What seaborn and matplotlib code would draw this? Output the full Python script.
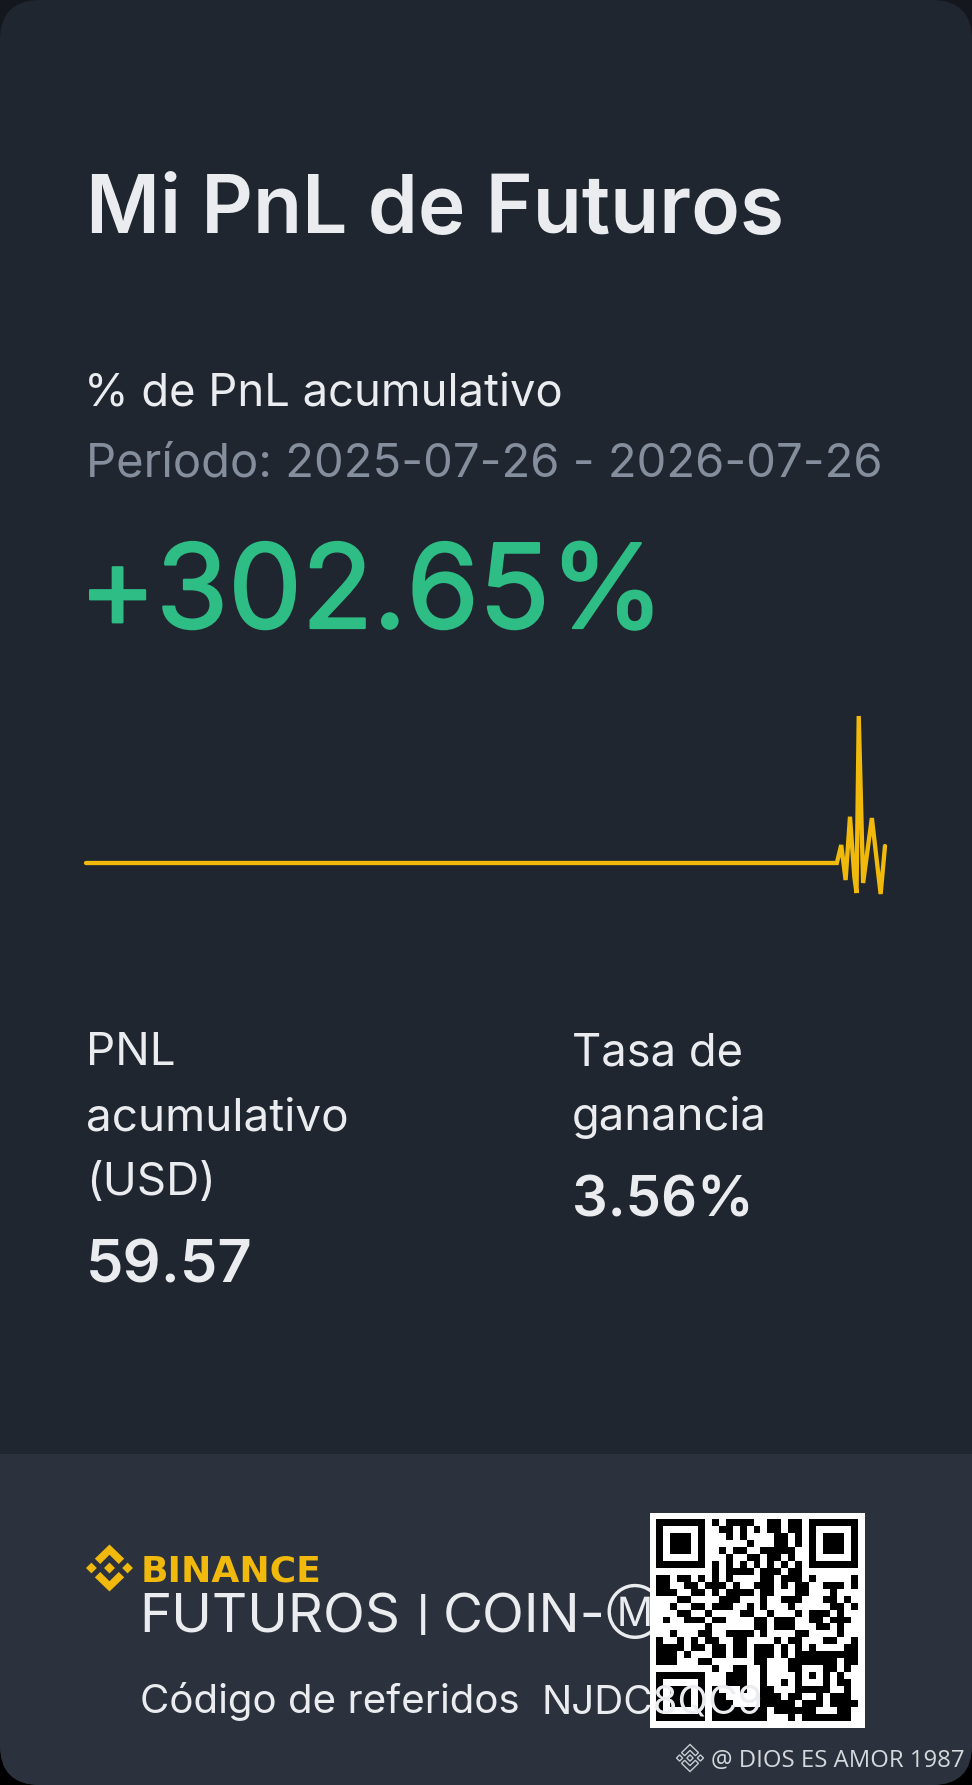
# Import libraries
import numpy as np
import pandas as pd
import matplotlib
matplotlib.use("Agg")
import matplotlib.pyplot as plt
import matplotlib.patheffects as pe
import seaborn as sns
from matplotlib.colors import ListedColormap
from matplotlib.patches import FancyBboxPatch, Polygon, Rectangle

# Chart data: day of the period and cumulative PnL %
day_index = [0, 343, 345, 347, 349, 351, 352, 353, 355, 359, 363, 365]
pnl_pct = [0, 0, 320, -303, 824, -250, -534, 2617, -356, 800, -552, 302.65]

# Texts
title_text = "Mi PnL de Futuros"
subtitle_text = "% de PnL acumulativo"
period_text = "Período: 2025-07-26 - 2026-07-26"
roi_text = "+302.65%"
pnl_label = ["PNL", "acumulativo", "(USD)"]
pnl_value = "59.57"
win_label = ["Tasa de", "ganancia"]
win_value = "3.56%"

# QR code: black columns of each row
full = [0, 1, 2, 3, 4, 5, 6]
edge = [0, 6]
mid = [0, 2, 3, 4, 6]
right_full = [22, 23, 24, 25, 26, 27, 28]
right_edge = [22, 28]
right_mid = [22, 24, 25, 26, 28]
qr_cols = [
    full + [8, 10, 11, 12, 13, 16, 17, 19, 20] + right_full,
    edge + [9, 10, 12, 14, 16, 17, 19, 20] + right_edge,
    mid + [10, 12, 17, 18, 20] + right_mid,
    mid + [13, 17, 18, 20] + right_mid,
    mid + [9, 11, 12, 15, 16, 17, 18, 19] + right_mid,
    edge + [10, 13, 14, 16, 17, 19] + right_edge,
    full + [8, 10, 12, 14, 16, 18, 20] + right_full,
    [8, 10, 11, 12, 13, 15, 16, 17, 19, 20],
    [0, 1, 3, 4, 6, 8, 10, 15, 16, 18, 19, 20, 22, 28],
    [0, 1, 4, 5, 7, 8, 9, 11, 14, 15, 16, 18, 20, 21, 24, 25, 26, 28],
    [0, 1, 2, 5, 6, 8, 10, 11, 12, 13, 15, 16, 20, 21, 25],
    [3, 4, 9, 10, 11, 15, 18, 19, 20, 24, 25, 27],
    [2, 5, 6, 8, 9, 10, 13, 15, 19, 25, 26, 28],
    [3, 4, 7, 12, 13, 16, 20, 22, 23, 24, 26],
    [1, 4, 5, 6, 8, 9, 14, 15, 17, 18, 19, 22, 23, 25, 26, 27],
    [7, 14, 15, 17, 18, 19, 23, 24, 26],
    [2, 6, 7, 10, 11, 12, 13, 15, 20, 21, 26],
    [0, 3, 5, 7, 8, 11, 12, 17, 19, 20, 24, 25, 28],
    [0, 1, 2, 3, 5, 6, 8, 9, 11, 12, 14, 15, 16, 18, 20, 22, 27, 28],
    [0, 1, 2, 4, 8, 9, 11, 12, 14, 15, 16, 18, 20, 21, 22, 23, 24, 25, 26, 27, 28],
    [0, 1, 2, 6, 7, 14, 15, 19, 20, 21, 22, 23, 24, 25, 27, 28],
    [8, 11, 12, 15, 19, 20, 24, 25, 27],
    full + [10, 11, 12, 15, 20, 22, 24, 26],
    edge + [10, 11, 12, 15, 18, 20, 24, 26, 27],
    mid + [8, 12, 15, 16, 20, 21, 22, 23, 24, 27],
    mid + [8, 9, 15, 16, 17, 19, 20, 23, 25, 26, 27],
    mid + [8, 9, 10, 15, 16, 17, 18, 19, 21, 22, 23, 25, 26, 27, 28],
    edge + [8, 9, 10, 11, 12, 13, 14, 15, 17, 18, 19, 20, 21, 22, 26, 27],
    full + [8, 9, 10, 11, 12, 13, 14, 15, 19, 21, 22, 23, 24, 25, 26, 27],
]

# Colours
card_color = "#1F2630"
panel_color = "#2B323D"
light_color = "#EAECEF"
grey_color = "#848E9C"
green_color = "#2EBD85"
yellow_color = "#F0B90B"

# Build the QR table
qr_matrix = np.zeros((29, 29), dtype=int)
for row, cols in enumerate(qr_cols):
    qr_matrix[row, cols] = 1
qr_df = pd.DataFrame(qr_matrix)

sns.set_style("white")
plt.rcParams["font.family"] = ["Inter", "DejaVu Sans"]

W, H = 972, 1785
fig = plt.figure(figsize=(W / 100, H / 100), dpi=100, facecolor="black")


def pixel_axes(x0, y0, x1, y1, zorder):
    # Axes placed with pixel coordinates, y going down
    ax = fig.add_axes([x0 / W, 1 - y1 / H, (x1 - x0) / W, (y1 - y0) / H], zorder=zorder)
    ax.patch.set_alpha(0)
    return ax


# Background card and bottom panel
bg = pixel_axes(0, 0, W, H, 0)
bg.set_xlim(0, W)
bg.set_ylim(H, 0)
bg.axis("off")
bg.add_patch(Rectangle((0, 0), W, 100, facecolor="#14181E", edgecolor="none"))
card = FancyBboxPatch((0, 0), W, H, boxstyle="round,pad=0,rounding_size=40",
                      facecolor=card_color, edgecolor="none")
bg.add_patch(card)
panel = Rectangle((0, 1454), W, H - 1454, facecolor=panel_color, edgecolor="none")
bg.add_patch(panel)
panel.set_clip_path(card)

# Header texts
bg.text(86, 233, title_text, fontsize=57.8, fontweight="semibold", color=light_color)
bg.text(84, 405, subtitle_text, fontsize=32.7, color=light_color)
bg.text(86, 476, period_text, fontsize=34, color=grey_color)
roi = bg.text(79, 628, roi_text, fontsize=84, color=green_color)
roi.set_path_effects([pe.withStroke(linewidth=1.6, foreground=green_color)])

# PNL and win rate blocks
for i, label in enumerate(pnl_label):
    bg.text(86, 1065 + i * 65, label, fontsize=33, color=light_color)
bg.text(86, 1282, pnl_value, fontsize=43, fontweight="semibold", color=light_color)
for i, label in enumerate(win_label):
    bg.text(572, 1065 + i * 65, label, fontsize=32.7, color=light_color)
bg.text(572, 1216, win_value, fontsize=40.5, fontweight="semibold", color=light_color)


# Binance logo: three small diamonds and two chevrons
def draw_logo(cx, cy, r, color, ax, hollow=False):
    face = "none" if hollow else color
    edge_col = color if hollow else "none"
    for dx, half in [(0, 0.233), (-0.77, 0.23), (0.77, 0.23)]:
        ax.add_patch(Polygon([(cx + (dx - half) * r, cy), (cx + dx * r, cy - half * r),
                              (cx + (dx + half) * r, cy), (cx + dx * r, cy + half * r)],
                             facecolor=face, edgecolor=edge_col, linewidth=1))
    for sign in (-1, 1):
        ax.add_patch(Polygon([(cx - 0.395 * r, cy + sign * 0.169 * r), (cx, cy + sign * 0.564 * r),
                              (cx + 0.395 * r, cy + sign * 0.169 * r), (cx + 0.625 * r, cy + sign * 0.398 * r),
                              (cx, cy + sign * r), (cx - 0.625 * r, cy + sign * 0.398 * r)],
                             facecolor=face, edgecolor=edge_col, linewidth=1))


draw_logo(109.5, 1568, 23.5, yellow_color, bg)
bg.text(141, 1581, "BINANCE", fontsize=26, fontweight="bold", color=yellow_color, family="DejaVu Sans")
bg.text(139, 1632, "FUTUROS", fontsize=39.4, color=light_color)
bg.text(417, 1627, "|", fontsize=25, fontweight="semibold", color=light_color)
bg.text(443, 1632, "COIN-", fontsize=39.4, color=light_color)
bg.text(606, 1626, "Ⓜ", fontsize=29, color=light_color)

# Line chart
ax_line = pixel_axes(86, 716, 885, 894, 2)
sns.lineplot(x=day_index, y=pnl_pct, ax=ax_line, color=yellow_color, linewidth=3.1)
ax_line.set_xlim(0, 365)
ax_line.set_ylim(min(pnl_pct), max(pnl_pct))
ax_line.axis("off")
for line in ax_line.get_lines():
    line.set_clip_on(False)
    line.set_solid_joinstyle("miter")

# QR code with its white margin
ax_box = pixel_axes(650, 1513, 865, 1728, 3)
ax_box.set_facecolor("white")
ax_box.patch.set_alpha(1)
ax_box.set_xticks([])
ax_box.set_yticks([])
sns.despine(ax=ax_box, left=True, bottom=True)
ax_qr = pixel_axes(656, 1519, 858, 1721, 4)
sns.heatmap(qr_df, cmap=ListedColormap(["white", "black"]), vmin=0, vmax=1, cbar=False,
            xticklabels=False, yticklabels=False, ax=ax_qr)

# Texts and watermark above the QR code
top = pixel_axes(0, 0, W, H, 5)
top.set_xlim(0, W)
top.set_ylim(H, 0)
top.axis("off")
top.text(140, 1713, "Código de referidos", fontsize=29, color=light_color)
top.text(541, 1713, "NJDC8QC9", fontsize=29, color=light_color)
draw_logo(690, 1758, 13.5, "#C8CCD2", top, hollow=True)
top.text(711, 1767, "@ DIOS ES AMOR 1987", fontsize=17.2, color="#D5D8DC", family="Open Sans")

fig.savefig("out.png", dpi=100, facecolor=fig.get_facecolor())
